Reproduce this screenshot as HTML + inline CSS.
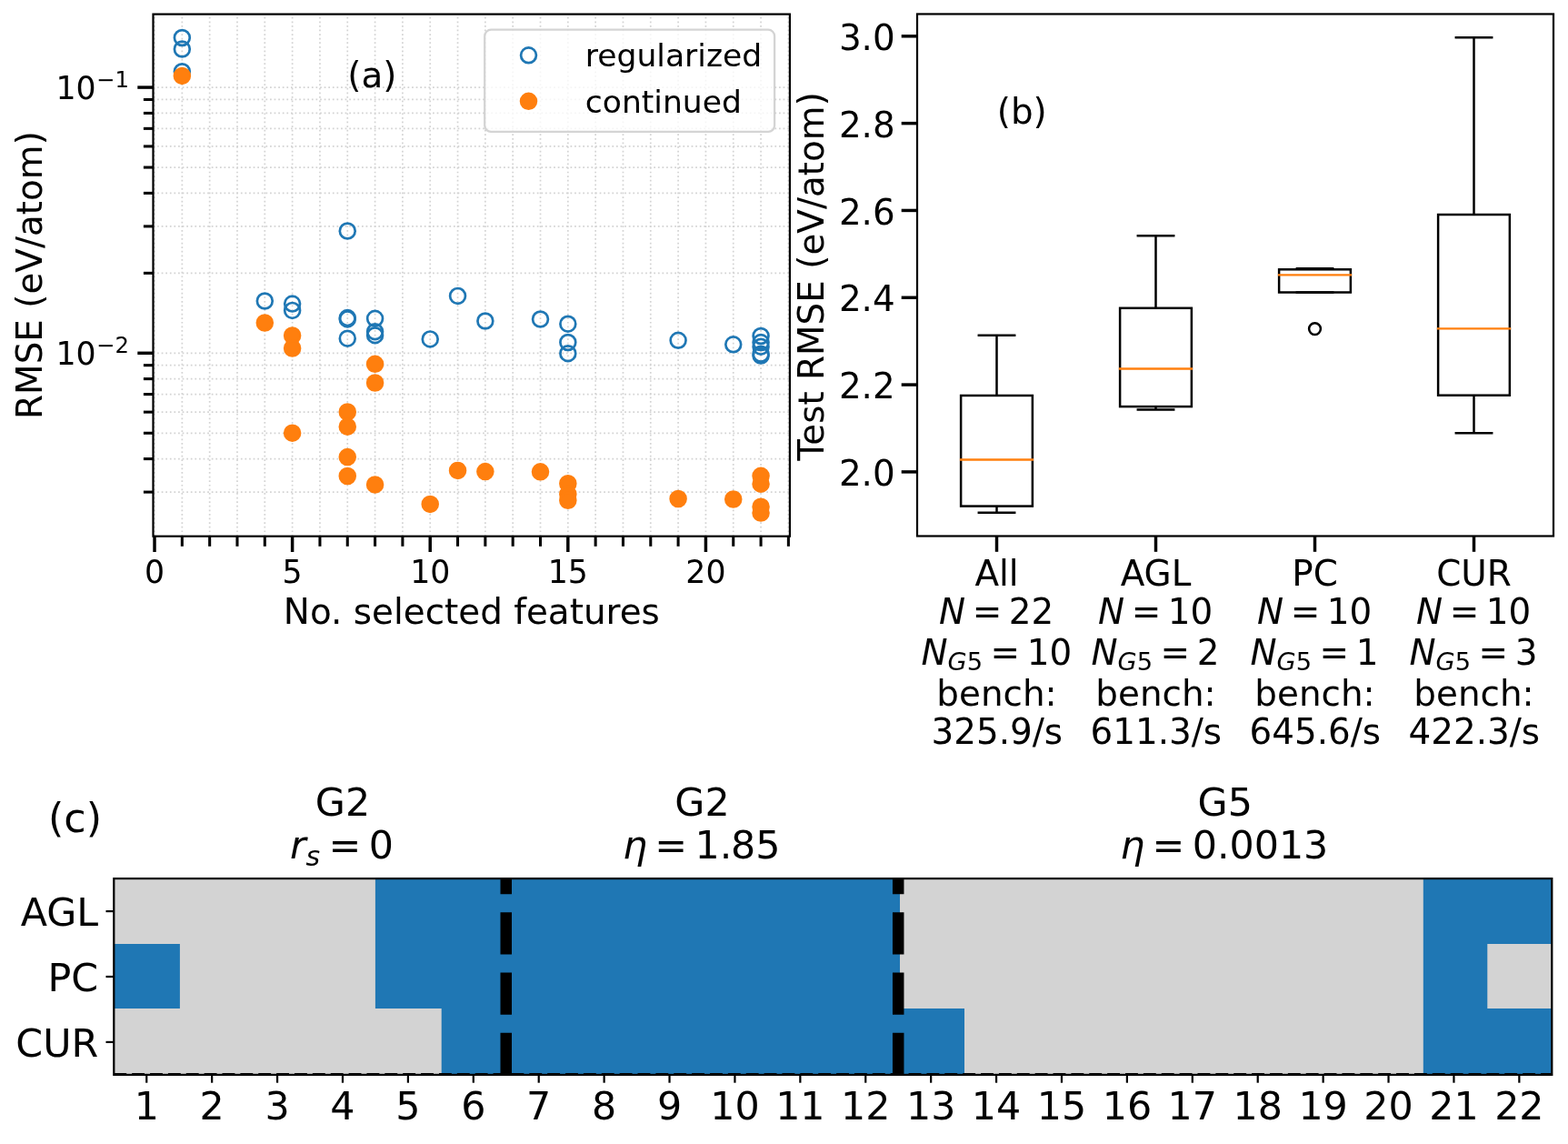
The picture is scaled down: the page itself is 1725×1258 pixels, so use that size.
<!DOCTYPE html>
<html lang="en"><head><meta charset="utf-8"><title>Feature selection figure</title>
<style>html,body{margin:0;padding:0;background:#fff;}body{width:1725px;height:1258px;overflow:hidden;}svg{display:block;}text{font-family:"DejaVu Sans","Liberation Sans",sans-serif;fill:#000;}</style>
</head><body>
<svg width="1725" height="1258" viewBox="0 0 1725 1258" role="img" aria-label="Three-panel figure: RMSE versus number of selected features, test RMSE box plots, and selected-feature map">
<rect x="0" y="0" width="1725" height="1258" fill="#fff"/>
<g id="panel-a">
<g stroke="#b0b0b0" stroke-width="1.73" stroke-dasharray="1.73 2.86" opacity="0.55" fill="none">
<line x1="170.02" y1="589.70" x2="170.02" y2="15.60"/>
<line x1="200.34" y1="589.70" x2="200.34" y2="15.60"/>
<line x1="230.66" y1="589.70" x2="230.66" y2="15.60"/>
<line x1="260.98" y1="589.70" x2="260.98" y2="15.60"/>
<line x1="291.30" y1="589.70" x2="291.30" y2="15.60"/>
<line x1="321.62" y1="589.70" x2="321.62" y2="15.60"/>
<line x1="351.94" y1="589.70" x2="351.94" y2="15.60"/>
<line x1="382.26" y1="589.70" x2="382.26" y2="15.60"/>
<line x1="412.58" y1="589.70" x2="412.58" y2="15.60"/>
<line x1="442.90" y1="589.70" x2="442.90" y2="15.60"/>
<line x1="473.22" y1="589.70" x2="473.22" y2="15.60"/>
<line x1="503.54" y1="589.70" x2="503.54" y2="15.60"/>
<line x1="533.86" y1="589.70" x2="533.86" y2="15.60"/>
<line x1="564.18" y1="589.70" x2="564.18" y2="15.60"/>
<line x1="594.50" y1="589.70" x2="594.50" y2="15.60"/>
<line x1="624.82" y1="589.70" x2="624.82" y2="15.60"/>
<line x1="655.14" y1="589.70" x2="655.14" y2="15.60"/>
<line x1="685.46" y1="589.70" x2="685.46" y2="15.60"/>
<line x1="715.78" y1="589.70" x2="715.78" y2="15.60"/>
<line x1="746.10" y1="589.70" x2="746.10" y2="15.60"/>
<line x1="776.42" y1="589.70" x2="776.42" y2="15.60"/>
<line x1="806.74" y1="589.70" x2="806.74" y2="15.60"/>
<line x1="837.06" y1="589.70" x2="837.06" y2="15.60"/>
<line x1="867.38" y1="589.70" x2="867.38" y2="15.60"/>
<line x1="168.50" y1="541.09" x2="868.90" y2="541.09"/>
<line x1="168.50" y1="504.58" x2="868.90" y2="504.58"/>
<line x1="168.50" y1="476.26" x2="868.90" y2="476.26"/>
<line x1="168.50" y1="453.12" x2="868.90" y2="453.12"/>
<line x1="168.50" y1="433.56" x2="868.90" y2="433.56"/>
<line x1="168.50" y1="416.62" x2="868.90" y2="416.62"/>
<line x1="168.50" y1="401.67" x2="868.90" y2="401.67"/>
<line x1="168.50" y1="388.30" x2="868.90" y2="388.30"/>
<line x1="168.50" y1="300.34" x2="868.90" y2="300.34"/>
<line x1="168.50" y1="248.89" x2="868.90" y2="248.89"/>
<line x1="168.50" y1="212.38" x2="868.90" y2="212.38"/>
<line x1="168.50" y1="184.06" x2="868.90" y2="184.06"/>
<line x1="168.50" y1="160.92" x2="868.90" y2="160.92"/>
<line x1="168.50" y1="141.36" x2="868.90" y2="141.36"/>
<line x1="168.50" y1="124.42" x2="868.90" y2="124.42"/>
<line x1="168.50" y1="109.47" x2="868.90" y2="109.47"/>
<line x1="168.50" y1="96.10" x2="868.90" y2="96.10"/>
</g>
<g fill="none" stroke="#1f77b4" stroke-width="2.70">
<circle cx="200.34" cy="41.50" r="8.42"/>
<circle cx="200.34" cy="54.00" r="8.42"/>
<circle cx="200.34" cy="78.70" r="8.42"/>
<circle cx="291.30" cy="331.00" r="8.42"/>
<circle cx="321.62" cy="334.10" r="8.42"/>
<circle cx="321.62" cy="341.40" r="8.42"/>
<circle cx="382.26" cy="254.00" r="8.42"/>
<circle cx="382.26" cy="349.60" r="8.42"/>
<circle cx="382.26" cy="350.90" r="8.42"/>
<circle cx="382.26" cy="372.20" r="8.42"/>
<circle cx="412.58" cy="350.30" r="8.42"/>
<circle cx="412.58" cy="364.70" r="8.42"/>
<circle cx="412.58" cy="368.70" r="8.42"/>
<circle cx="473.22" cy="372.90" r="8.42"/>
<circle cx="503.54" cy="325.40" r="8.42"/>
<circle cx="533.86" cy="353.00" r="8.42"/>
<circle cx="594.50" cy="351.00" r="8.42"/>
<circle cx="624.82" cy="356.20" r="8.42"/>
<circle cx="624.82" cy="376.50" r="8.42"/>
<circle cx="624.82" cy="388.70" r="8.42"/>
<circle cx="746.10" cy="374.30" r="8.42"/>
<circle cx="806.74" cy="378.80" r="8.42"/>
<circle cx="837.06" cy="369.50" r="8.42"/>
<circle cx="837.06" cy="376.60" r="8.42"/>
<circle cx="837.06" cy="381.20" r="8.42"/>
<circle cx="837.06" cy="389.30" r="8.42"/>
<circle cx="837.06" cy="391.10" r="8.42"/>
</g>
<g fill="#ff7f0e" stroke="#ff7f0e" stroke-width="2.70">
<circle cx="200.34" cy="83.40" r="8.42"/>
<circle cx="291.30" cy="355.00" r="8.42"/>
<circle cx="321.62" cy="369.00" r="8.42"/>
<circle cx="321.62" cy="383.00" r="8.42"/>
<circle cx="321.62" cy="476.20" r="8.42"/>
<circle cx="382.26" cy="453.00" r="8.42"/>
<circle cx="382.26" cy="469.20" r="8.42"/>
<circle cx="382.26" cy="502.60" r="8.42"/>
<circle cx="382.26" cy="523.50" r="8.42"/>
<circle cx="412.58" cy="400.30" r="8.42"/>
<circle cx="412.58" cy="421.00" r="8.42"/>
<circle cx="412.58" cy="532.90" r="8.42"/>
<circle cx="473.22" cy="554.40" r="8.42"/>
<circle cx="503.54" cy="517.40" r="8.42"/>
<circle cx="533.86" cy="518.60" r="8.42"/>
<circle cx="594.50" cy="518.80" r="8.42"/>
<circle cx="624.82" cy="531.70" r="8.42"/>
<circle cx="624.82" cy="543.50" r="8.42"/>
<circle cx="624.82" cy="550.30" r="8.42"/>
<circle cx="746.10" cy="548.50" r="8.42"/>
<circle cx="806.74" cy="549.00" r="8.42"/>
<circle cx="837.06" cy="523.30" r="8.42"/>
<circle cx="837.06" cy="532.20" r="8.42"/>
<circle cx="837.06" cy="557.20" r="8.42"/>
<circle cx="837.06" cy="564.10" r="8.42"/>
</g>
<line x1="170.02" y1="589.70" x2="170.02" y2="607.00" stroke="#000" stroke-width="3.47"/>
<line x1="200.34" y1="589.70" x2="200.34" y2="600.81" stroke="#000" stroke-width="3.06"/>
<line x1="230.66" y1="589.70" x2="230.66" y2="600.81" stroke="#000" stroke-width="3.06"/>
<line x1="260.98" y1="589.70" x2="260.98" y2="600.81" stroke="#000" stroke-width="3.06"/>
<line x1="291.30" y1="589.70" x2="291.30" y2="600.81" stroke="#000" stroke-width="3.06"/>
<line x1="321.62" y1="589.70" x2="321.62" y2="607.00" stroke="#000" stroke-width="3.47"/>
<line x1="351.94" y1="589.70" x2="351.94" y2="600.81" stroke="#000" stroke-width="3.06"/>
<line x1="382.26" y1="589.70" x2="382.26" y2="600.81" stroke="#000" stroke-width="3.06"/>
<line x1="412.58" y1="589.70" x2="412.58" y2="600.81" stroke="#000" stroke-width="3.06"/>
<line x1="442.90" y1="589.70" x2="442.90" y2="600.81" stroke="#000" stroke-width="3.06"/>
<line x1="473.22" y1="589.70" x2="473.22" y2="607.00" stroke="#000" stroke-width="3.47"/>
<line x1="503.54" y1="589.70" x2="503.54" y2="600.81" stroke="#000" stroke-width="3.06"/>
<line x1="533.86" y1="589.70" x2="533.86" y2="600.81" stroke="#000" stroke-width="3.06"/>
<line x1="564.18" y1="589.70" x2="564.18" y2="600.81" stroke="#000" stroke-width="3.06"/>
<line x1="594.50" y1="589.70" x2="594.50" y2="600.81" stroke="#000" stroke-width="3.06"/>
<line x1="624.82" y1="589.70" x2="624.82" y2="607.00" stroke="#000" stroke-width="3.47"/>
<line x1="655.14" y1="589.70" x2="655.14" y2="600.81" stroke="#000" stroke-width="3.06"/>
<line x1="685.46" y1="589.70" x2="685.46" y2="600.81" stroke="#000" stroke-width="3.06"/>
<line x1="715.78" y1="589.70" x2="715.78" y2="600.81" stroke="#000" stroke-width="3.06"/>
<line x1="746.10" y1="589.70" x2="746.10" y2="600.81" stroke="#000" stroke-width="3.06"/>
<line x1="776.42" y1="589.70" x2="776.42" y2="607.00" stroke="#000" stroke-width="3.47"/>
<line x1="806.74" y1="589.70" x2="806.74" y2="600.81" stroke="#000" stroke-width="3.06"/>
<line x1="837.06" y1="589.70" x2="837.06" y2="600.81" stroke="#000" stroke-width="3.06"/>
<line x1="867.38" y1="589.70" x2="867.38" y2="600.81" stroke="#000" stroke-width="3.06"/>
<line x1="168.50" y1="541.09" x2="157.90" y2="541.09" stroke="#000" stroke-width="3.06"/>
<line x1="168.50" y1="504.58" x2="157.90" y2="504.58" stroke="#000" stroke-width="3.06"/>
<line x1="168.50" y1="476.26" x2="157.90" y2="476.26" stroke="#000" stroke-width="3.06"/>
<line x1="168.50" y1="453.12" x2="157.90" y2="453.12" stroke="#000" stroke-width="3.06"/>
<line x1="168.50" y1="433.56" x2="157.90" y2="433.56" stroke="#000" stroke-width="3.06"/>
<line x1="168.50" y1="416.62" x2="157.90" y2="416.62" stroke="#000" stroke-width="3.06"/>
<line x1="168.50" y1="401.67" x2="157.90" y2="401.67" stroke="#000" stroke-width="3.06"/>
<line x1="168.50" y1="388.30" x2="151.30" y2="388.30" stroke="#000" stroke-width="3.47"/>
<line x1="168.50" y1="300.34" x2="157.90" y2="300.34" stroke="#000" stroke-width="3.06"/>
<line x1="168.50" y1="248.89" x2="157.90" y2="248.89" stroke="#000" stroke-width="3.06"/>
<line x1="168.50" y1="212.38" x2="157.90" y2="212.38" stroke="#000" stroke-width="3.06"/>
<line x1="168.50" y1="184.06" x2="157.90" y2="184.06" stroke="#000" stroke-width="3.06"/>
<line x1="168.50" y1="160.92" x2="157.90" y2="160.92" stroke="#000" stroke-width="3.06"/>
<line x1="168.50" y1="141.36" x2="157.90" y2="141.36" stroke="#000" stroke-width="3.06"/>
<line x1="168.50" y1="124.42" x2="157.90" y2="124.42" stroke="#000" stroke-width="3.06"/>
<line x1="168.50" y1="109.47" x2="157.90" y2="109.47" stroke="#000" stroke-width="3.06"/>
<line x1="168.50" y1="96.10" x2="151.30" y2="96.10" stroke="#000" stroke-width="3.47"/>
<rect x="168.50" y="15.60" width="700.40" height="574.10" fill="none" stroke="#000" stroke-width="2.22"/>
<text x="170.02" y="640.70" font-size="34.72" text-anchor="middle">0</text>
<text x="321.62" y="640.70" font-size="34.72" text-anchor="middle">5</text>
<text x="473.22" y="640.70" font-size="34.72" text-anchor="middle">10</text>
<text x="624.82" y="640.70" font-size="34.72" text-anchor="middle">15</text>
<text x="776.42" y="640.70" font-size="34.72" text-anchor="middle">20</text>
<text xml:space="preserve" style="white-space:pre"><tspan font-size="34.72" x="61.46 83.57" y="108.90">10</tspan><tspan font-size="24.31" x="106.01 126.39" y="95.50">−1</tspan></text>
<text xml:space="preserve" style="white-space:pre"><tspan font-size="34.72" x="61.46 83.57" y="401.10">10</tspan><tspan font-size="24.31" x="106.01 126.39" y="387.70">−2</tspan></text>
<text x="518.85" y="686.40" font-size="38.89" text-anchor="middle">No. selected features</text>
<text transform="translate(45.8,302.5) rotate(-90)" font-size="38.89" text-anchor="middle">RMSE (eV/atom)</text>
<text x="382.35" y="96.20" font-size="38.89" text-anchor="start">(a)</text>
<rect x="533.2" y="32.7" width="318.9" height="112.2" rx="7" ry="7" fill="#fff" fill-opacity="0.78" stroke="#ccc" stroke-opacity="0.85" stroke-width="2.3"/>
<circle cx="581.5" cy="60.8" r="8.42" fill="none" stroke="#1f77b4" stroke-width="2.70"/>
<circle cx="581.5" cy="111.3" r="8.42" fill="#ff7f0e" stroke="#ff7f0e" stroke-width="2.70"/>
<text x="643.80" y="72.70" font-size="34.55" text-anchor="start">regularized</text>
<text x="643.80" y="123.50" font-size="34.55" text-anchor="start">continued</text>
</g>
<g id="panel-b">
<g stroke="#000" stroke-width="2.50" fill="none" stroke-linecap="square">
<line x1="1096.50" y1="556.60" x2="1096.50" y2="563.70" stroke-linecap="butt"/>
<line x1="1096.50" y1="434.95" x2="1096.50" y2="368.80" stroke-linecap="butt"/>
<line x1="1076.81" y1="563.70" x2="1116.19" y2="563.70"/>
<line x1="1076.81" y1="368.80" x2="1116.19" y2="368.80"/>
<rect x="1057.12" y="434.95" width="78.75" height="121.65"/>
</g>
<line x1="1055.88" y1="505.50" x2="1137.12" y2="505.50" stroke="#ff7f0e" stroke-width="2.35"/>
<g stroke="#000" stroke-width="2.50" fill="none" stroke-linecap="square">
<line x1="1271.50" y1="447.10" x2="1271.50" y2="450.40" stroke-linecap="butt"/>
<line x1="1271.50" y1="338.80" x2="1271.50" y2="259.20" stroke-linecap="butt"/>
<line x1="1251.81" y1="450.40" x2="1291.19" y2="450.40"/>
<line x1="1251.81" y1="259.20" x2="1291.19" y2="259.20"/>
<rect x="1232.12" y="338.80" width="78.75" height="108.30"/>
</g>
<line x1="1230.88" y1="405.50" x2="1312.12" y2="405.50" stroke="#ff7f0e" stroke-width="2.35"/>
<g stroke="#000" stroke-width="2.50" fill="none" stroke-linecap="square">
<line x1="1446.50" y1="321.50" x2="1446.50" y2="321.50" stroke-linecap="butt"/>
<line x1="1446.50" y1="296.30" x2="1446.50" y2="295.20" stroke-linecap="butt"/>
<line x1="1426.81" y1="321.50" x2="1466.19" y2="321.50"/>
<line x1="1426.81" y1="295.20" x2="1466.19" y2="295.20"/>
<rect x="1407.12" y="296.30" width="78.75" height="25.20"/>
</g>
<line x1="1405.88" y1="302.40" x2="1487.12" y2="302.40" stroke="#ff7f0e" stroke-width="2.35"/>
<g stroke="#000" stroke-width="2.50" fill="none" stroke-linecap="square">
<line x1="1621.50" y1="434.70" x2="1621.50" y2="476.20" stroke-linecap="butt"/>
<line x1="1621.50" y1="236.00" x2="1621.50" y2="41.30" stroke-linecap="butt"/>
<line x1="1601.81" y1="476.20" x2="1641.19" y2="476.20"/>
<line x1="1601.81" y1="41.30" x2="1641.19" y2="41.30"/>
<rect x="1582.12" y="236.00" width="78.75" height="198.70"/>
</g>
<line x1="1580.88" y1="361.30" x2="1662.12" y2="361.30" stroke="#ff7f0e" stroke-width="2.35"/>
<circle cx="1446.50" cy="361.6" r="6.4" fill="none" stroke="#000" stroke-width="2.50"/>
<line x1="1009.00" y1="518.90" x2="991.70" y2="518.90" stroke="#000" stroke-width="3.47"/>
<text x="984.71" y="534.10" font-size="38.89" text-anchor="end">2.0</text>
<line x1="1009.00" y1="423.08" x2="991.70" y2="423.08" stroke="#000" stroke-width="3.47"/>
<text x="984.71" y="438.28" font-size="38.89" text-anchor="end">2.2</text>
<line x1="1009.00" y1="327.26" x2="991.70" y2="327.26" stroke="#000" stroke-width="3.47"/>
<text x="984.71" y="342.46" font-size="38.89" text-anchor="end">2.4</text>
<line x1="1009.00" y1="231.44" x2="991.70" y2="231.44" stroke="#000" stroke-width="3.47"/>
<text x="984.71" y="246.64" font-size="38.89" text-anchor="end">2.6</text>
<line x1="1009.00" y1="135.62" x2="991.70" y2="135.62" stroke="#000" stroke-width="3.47"/>
<text x="984.71" y="150.82" font-size="38.89" text-anchor="end">2.8</text>
<line x1="1009.00" y1="39.80" x2="991.70" y2="39.80" stroke="#000" stroke-width="3.47"/>
<text x="984.71" y="55.00" font-size="38.89" text-anchor="end">3.0</text>
<line x1="1096.50" y1="589.50" x2="1096.50" y2="606.80" stroke="#000" stroke-width="3.47"/>
<line x1="1271.50" y1="589.50" x2="1271.50" y2="606.80" stroke="#000" stroke-width="3.47"/>
<line x1="1446.50" y1="589.50" x2="1446.50" y2="606.80" stroke="#000" stroke-width="3.47"/>
<line x1="1621.50" y1="589.50" x2="1621.50" y2="606.80" stroke="#000" stroke-width="3.47"/>
<rect x="1009.00" y="15.45" width="700.00" height="574.05" fill="none" stroke="#000" stroke-width="2.22"/>
<text x="1096.50" y="644.00" font-size="38.89" text-anchor="middle">All</text>
<text xml:space="preserve" style="white-space:pre"><tspan font-style="italic" font-size="38.89" x="1033.00" y="685.80">N</tspan><tspan font-size="38.89" x="1063.65 1069.65 1089.65 1109.80 1134.53" y="685.80"> = 22</tspan></text>
<text xml:space="preserve" style="white-space:pre"><tspan font-style="italic" font-size="38.89" x="1013.50" y="730.90">N</tspan><tspan font-style="italic" font-size="27.22" x="1042.58" y="737.30">G</tspan><tspan font-size="27.22" x="1063.67" y="737.30">5</tspan><tspan font-size="38.89" x="1083.62 1089.62 1109.62 1129.77 1154.50" y="730.90"> = 10</tspan></text>
<text x="1096.50" y="775.50" font-size="38.89" text-anchor="middle">bench:</text>
<text x="1096.80" y="818.00" font-size="38.89" text-anchor="middle">325.9/s</text>
<text x="1271.50" y="644.00" font-size="38.89" text-anchor="middle">AGL</text>
<text xml:space="preserve" style="white-space:pre"><tspan font-style="italic" font-size="38.89" x="1208.00" y="685.80">N</tspan><tspan font-size="38.89" x="1238.65 1244.65 1264.65 1284.80 1309.53" y="685.80"> = 10</tspan></text>
<text xml:space="preserve" style="white-space:pre"><tspan font-style="italic" font-size="38.89" x="1200.50" y="730.90">N</tspan><tspan font-style="italic" font-size="27.22" x="1229.58" y="737.30">G</tspan><tspan font-size="27.22" x="1250.67" y="737.30">5</tspan><tspan font-size="38.89" x="1270.62 1276.62 1296.62 1316.77" y="730.90"> = 2</tspan></text>
<text x="1271.50" y="775.50" font-size="38.89" text-anchor="middle">bench:</text>
<text x="1271.80" y="818.00" font-size="38.89" text-anchor="middle">611.3/s</text>
<text x="1446.50" y="644.00" font-size="38.89" text-anchor="middle">PC</text>
<text xml:space="preserve" style="white-space:pre"><tspan font-style="italic" font-size="38.89" x="1383.00" y="685.80">N</tspan><tspan font-size="38.89" x="1413.65 1419.65 1439.65 1459.80 1484.53" y="685.80"> = 10</tspan></text>
<text xml:space="preserve" style="white-space:pre"><tspan font-style="italic" font-size="38.89" x="1375.50" y="730.90">N</tspan><tspan font-style="italic" font-size="27.22" x="1404.58" y="737.30">G</tspan><tspan font-size="27.22" x="1425.67" y="737.30">5</tspan><tspan font-size="38.89" x="1445.62 1451.62 1471.62 1491.77" y="730.90"> = 1</tspan></text>
<text x="1446.50" y="775.50" font-size="38.89" text-anchor="middle">bench:</text>
<text x="1446.80" y="818.00" font-size="38.89" text-anchor="middle">645.6/s</text>
<text x="1621.50" y="644.00" font-size="38.89" text-anchor="middle">CUR</text>
<text xml:space="preserve" style="white-space:pre"><tspan font-style="italic" font-size="38.89" x="1558.00" y="685.80">N</tspan><tspan font-size="38.89" x="1588.65 1594.65 1614.65 1634.80 1659.53" y="685.80"> = 10</tspan></text>
<text xml:space="preserve" style="white-space:pre"><tspan font-style="italic" font-size="38.89" x="1550.50" y="730.90">N</tspan><tspan font-style="italic" font-size="27.22" x="1579.58" y="737.30">G</tspan><tspan font-size="27.22" x="1600.67" y="737.30">5</tspan><tspan font-size="38.89" x="1620.62 1626.62 1646.62 1666.77" y="730.90"> = 3</tspan></text>
<text x="1621.50" y="775.50" font-size="38.89" text-anchor="middle">bench:</text>
<text x="1621.80" y="818.00" font-size="38.89" text-anchor="middle">422.3/s</text>
<text transform="translate(906.1,303.98) rotate(-90)" font-size="38.89" text-anchor="middle">Test RMSE (eV/atom)</text>
<text x="1096.75" y="136.00" font-size="38.89" text-anchor="start">(b)</text>
</g>
<g id="panel-c">
<rect x="125.30" y="966.10" width="1582.00" height="215.80" fill="#d3d3d3"/>
<rect x="412.90" y="966.10" width="577.10" height="71.90" fill="#1f77b4"/>
<rect x="125.30" y="1038.00" width="72.60" height="71.00" fill="#1f77b4"/>
<rect x="412.90" y="1038.00" width="577.10" height="71.00" fill="#1f77b4"/>
<rect x="485.70" y="1109.00" width="575.30" height="72.90" fill="#1f77b4"/>
<rect x="1565.80" y="966.10" width="141.50" height="215.80" fill="#1f77b4"/>
<rect x="1636.30" y="1038.00" width="71.00" height="71.00" fill="#d3d3d3"/>
<clipPath id="cclip"><rect x="125.30" y="966.10" width="1582.00" height="215.80"/></clipPath>
<g clip-path="url(#cclip)" stroke="#000" fill="none">
<line x1="125.30" y1="1181.90" x2="1707.30" y2="1181.90" stroke-width="3.75" stroke-dasharray="13.87 6.0"/>
<line x1="556.75" y1="1181.90" x2="556.75" y2="966.10" stroke-width="12.50" stroke-dasharray="46.25 20.00"/>
<line x1="988.21" y1="1181.90" x2="988.21" y2="966.10" stroke-width="12.50" stroke-dasharray="46.25 20.00"/>
</g>
<line x1="161.25" y1="1181.90" x2="161.25" y2="1190.70" stroke="#000" stroke-width="2.22"/>
<text x="161.25" y="1230.60" font-size="42.78" text-anchor="middle">1</text>
<line x1="233.16" y1="1181.90" x2="233.16" y2="1190.70" stroke="#000" stroke-width="2.22"/>
<text x="233.16" y="1230.60" font-size="42.78" text-anchor="middle">2</text>
<line x1="305.07" y1="1181.90" x2="305.07" y2="1190.70" stroke="#000" stroke-width="2.22"/>
<text x="305.07" y="1230.60" font-size="42.78" text-anchor="middle">3</text>
<line x1="376.98" y1="1181.90" x2="376.98" y2="1190.70" stroke="#000" stroke-width="2.22"/>
<text x="376.98" y="1230.60" font-size="42.78" text-anchor="middle">4</text>
<line x1="448.89" y1="1181.90" x2="448.89" y2="1190.70" stroke="#000" stroke-width="2.22"/>
<text x="448.89" y="1230.60" font-size="42.78" text-anchor="middle">5</text>
<line x1="520.80" y1="1181.90" x2="520.80" y2="1190.70" stroke="#000" stroke-width="2.22"/>
<text x="520.80" y="1230.60" font-size="42.78" text-anchor="middle">6</text>
<line x1="592.71" y1="1181.90" x2="592.71" y2="1190.70" stroke="#000" stroke-width="2.22"/>
<text x="592.71" y="1230.60" font-size="42.78" text-anchor="middle">7</text>
<line x1="664.62" y1="1181.90" x2="664.62" y2="1190.70" stroke="#000" stroke-width="2.22"/>
<text x="664.62" y="1230.60" font-size="42.78" text-anchor="middle">8</text>
<line x1="736.53" y1="1181.90" x2="736.53" y2="1190.70" stroke="#000" stroke-width="2.22"/>
<text x="736.53" y="1230.60" font-size="42.78" text-anchor="middle">9</text>
<line x1="808.44" y1="1181.90" x2="808.44" y2="1190.70" stroke="#000" stroke-width="2.22"/>
<text x="808.44" y="1230.60" font-size="42.78" text-anchor="middle">10</text>
<line x1="880.35" y1="1181.90" x2="880.35" y2="1190.70" stroke="#000" stroke-width="2.22"/>
<text x="880.35" y="1230.60" font-size="42.78" text-anchor="middle">11</text>
<line x1="952.25" y1="1181.90" x2="952.25" y2="1190.70" stroke="#000" stroke-width="2.22"/>
<text x="952.25" y="1230.60" font-size="42.78" text-anchor="middle">12</text>
<line x1="1024.16" y1="1181.90" x2="1024.16" y2="1190.70" stroke="#000" stroke-width="2.22"/>
<text x="1024.16" y="1230.60" font-size="42.78" text-anchor="middle">13</text>
<line x1="1096.07" y1="1181.90" x2="1096.07" y2="1190.70" stroke="#000" stroke-width="2.22"/>
<text x="1096.07" y="1230.60" font-size="42.78" text-anchor="middle">14</text>
<line x1="1167.98" y1="1181.90" x2="1167.98" y2="1190.70" stroke="#000" stroke-width="2.22"/>
<text x="1167.98" y="1230.60" font-size="42.78" text-anchor="middle">15</text>
<line x1="1239.89" y1="1181.90" x2="1239.89" y2="1190.70" stroke="#000" stroke-width="2.22"/>
<text x="1239.89" y="1230.60" font-size="42.78" text-anchor="middle">16</text>
<line x1="1311.80" y1="1181.90" x2="1311.80" y2="1190.70" stroke="#000" stroke-width="2.22"/>
<text x="1311.80" y="1230.60" font-size="42.78" text-anchor="middle">17</text>
<line x1="1383.71" y1="1181.90" x2="1383.71" y2="1190.70" stroke="#000" stroke-width="2.22"/>
<text x="1383.71" y="1230.60" font-size="42.78" text-anchor="middle">18</text>
<line x1="1455.62" y1="1181.90" x2="1455.62" y2="1190.70" stroke="#000" stroke-width="2.22"/>
<text x="1455.62" y="1230.60" font-size="42.78" text-anchor="middle">19</text>
<line x1="1527.53" y1="1181.90" x2="1527.53" y2="1190.70" stroke="#000" stroke-width="2.22"/>
<text x="1527.53" y="1230.60" font-size="42.78" text-anchor="middle">20</text>
<line x1="1599.44" y1="1181.90" x2="1599.44" y2="1190.70" stroke="#000" stroke-width="2.22"/>
<text x="1599.44" y="1230.60" font-size="42.78" text-anchor="middle">21</text>
<line x1="1671.35" y1="1181.90" x2="1671.35" y2="1190.70" stroke="#000" stroke-width="2.22"/>
<text x="1671.35" y="1230.60" font-size="42.78" text-anchor="middle">22</text>
<line x1="125.30" y1="1002.07" x2="116.50" y2="1002.07" stroke="#000" stroke-width="2.22"/>
<text x="108.18" y="1018.37" font-size="42.78" text-anchor="end">AGL</text>
<line x1="125.30" y1="1074.00" x2="116.50" y2="1074.00" stroke="#000" stroke-width="2.22"/>
<text x="108.18" y="1090.30" font-size="42.78" text-anchor="end">PC</text>
<line x1="125.30" y1="1145.93" x2="116.50" y2="1145.93" stroke="#000" stroke-width="2.22"/>
<text x="108.18" y="1162.23" font-size="42.78" text-anchor="end">CUR</text>
<rect x="125.30" y="966.10" width="1582.00" height="215.80" fill="none" stroke="#000" stroke-width="2.22"/>
<text x="376.98" y="897.00" font-size="42.78" text-anchor="middle">G2</text>
<text xml:space="preserve" style="white-space:pre"><tspan font-style="italic" font-size="42.78" x="318.88" y="944.10">r</tspan><tspan font-style="italic" font-size="29.94" x="336.46" y="952.05">s</tspan><tspan font-size="42.78" x="355.55 361.55 381.55 405.70" y="944.10"> = 0</tspan></text>
<text x="772.48" y="897.00" font-size="42.78" text-anchor="middle">G2</text>
<text xml:space="preserve" style="white-space:pre"><tspan font-style="italic" font-size="42.78" x="684.88" y="944.10">η</tspan><tspan font-size="42.78" x="714.31 720.31 740.31 764.45 791.65 804.12 831.32" y="944.10"> = 1.85</tspan></text>
<text x="1347.75" y="897.00" font-size="42.78" text-anchor="middle">G5</text>
<text xml:space="preserve" style="white-space:pre"><tspan font-style="italic" font-size="42.78" x="1232.15" y="944.10">η</tspan><tspan font-size="42.78" x="1261.58 1267.58 1287.58 1311.73 1338.93 1352.51 1379.71 1406.91 1434.11" y="944.10"> = 0.0013</tspan></text>
<text x="53.00" y="914.70" font-size="44.44" text-anchor="start">(c)</text>
</g>
</svg>
</body></html>
